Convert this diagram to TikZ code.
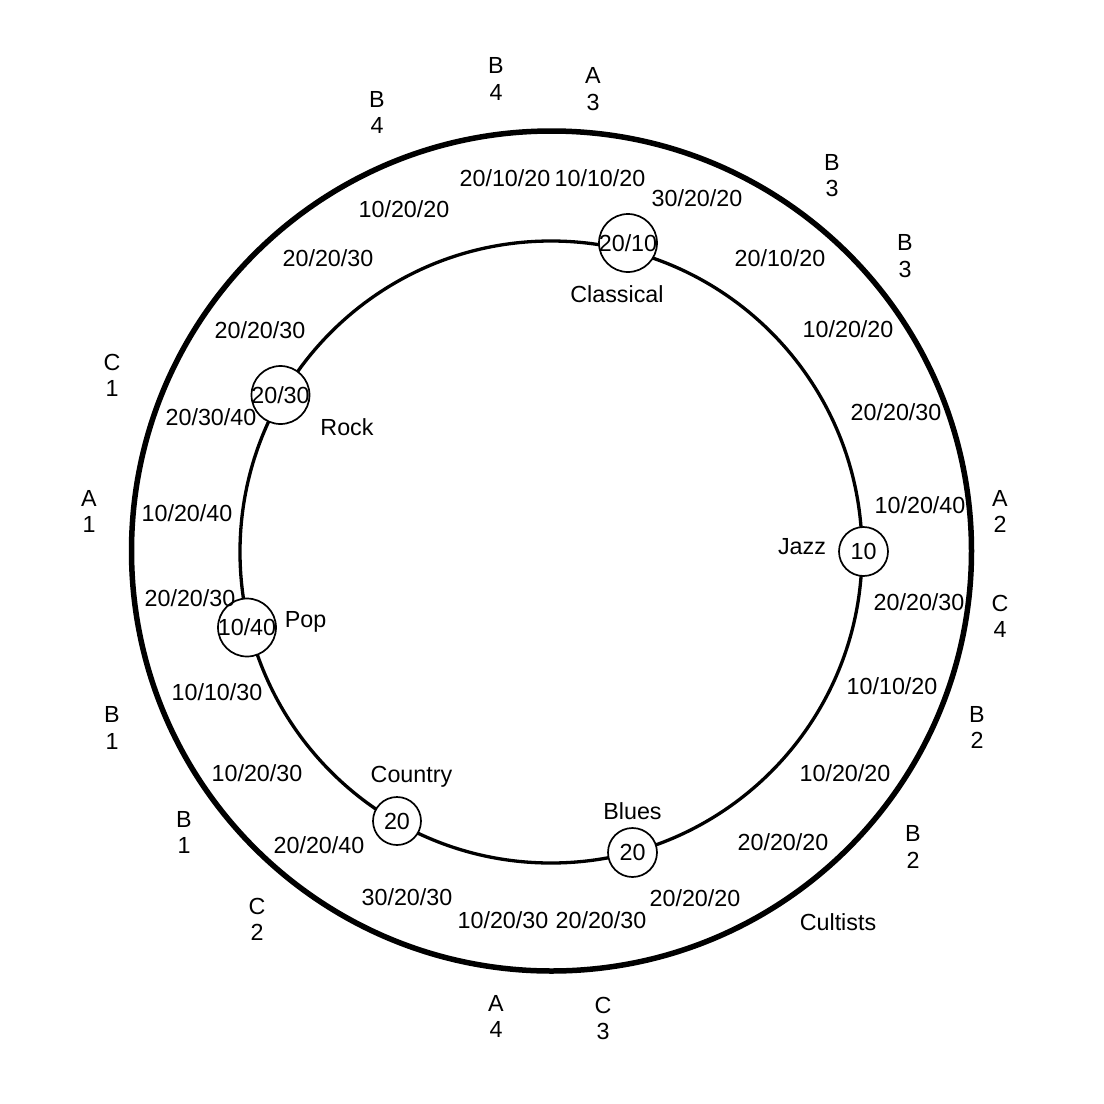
\documentclass[tikz,border=0pt]{standalone}
\usepackage{fontspec}
\setmainfont{Liberation Sans}
\begin{document}
\begin{tikzpicture}[x=1pt,y=-1pt,
  lbl/.style={font=\fontsize{23.3}{26.7}\selectfont, inner sep=0pt, align=center},
  ring/.style={circle, draw, inner sep=0pt},
  genre/.style={circle, draw, fill=white, line width=1.7pt, inner sep=0pt, minimum size=#1, font=\fontsize{23.3}{26.7}\selectfont},
]
\useasboundingbox (0,0) rectangle (1104,1104);
% rings
\node[ring, line width=5.5pt, minimum size=840pt] (outer) at (551.5,551) {};
\node[ring, line width=3.3pt, minimum size=622pt] (inner) at (551,552) {};
% genre nodes
\node[genre=58pt] (cl) at (628,243) {\makebox[0pt]{20/10}};
\node[genre=58pt] (rock) at (280.5,395) {\makebox[0pt]{20/30}};
\node[genre=58pt] (pop) at (247,627.5) {\makebox[0pt]{10/40}};
\node[genre=49pt] (jazz) at (863.5,551.5) {\makebox[0pt]{10}};
\node[genre=48pt] (country) at (397,821) {\makebox[0pt]{20}};
\node[genre=49pt] (blues) at (632.5,852.5) {\makebox[0pt]{20}};
% genre names
\node[lbl, anchor=base] (tcl) at (617,302) {Classical};
\node[lbl, anchor=base] (trock) at (347,435) {Rock};
\node[lbl, anchor=base] (tpop) at (305.5,627) {Pop};
\node[lbl, anchor=base] (tjazz) at (802,554) {Jazz};
\node[lbl, anchor=base] (tcountry) at (411.5,782.5) {Country};
\node[lbl, anchor=base] (tblues) at (632.5,819) {Blues};
\node[lbl, anchor=base] (tcult) at (838,930.5) {Cultists};
% ring labels
\node[lbl] (r1) at (505,178) {20/10/20};
\node[lbl] (r2) at (600,178) {10/10/20};
\node[lbl] (r3) at (697,198) {30/20/20};
\node[lbl] (r4) at (404,209) {10/20/20};
\node[lbl] (r5) at (328,258) {20/20/30};
\node[lbl] (r6) at (780,258) {20/10/20};
\node[lbl] (r7) at (260,330) {20/20/30};
\node[lbl] (r8) at (848,329) {10/20/20};
\node[lbl] (r9) at (211,417) {20/30/40};
\node[lbl] (r10) at (896,412) {20/20/30};
\node[lbl] (r11) at (187,513) {10/20/40};
\node[lbl] (r12) at (920,505) {10/20/40};
\node[lbl] (r13) at (190,598) {20/20/30};
\node[lbl] (r14) at (919,602) {20/20/30};
\node[lbl] (r15) at (217,692) {10/10/30};
\node[lbl] (r16) at (892,686) {10/10/20};
\node[lbl] (r17) at (257,773) {10/20/30};
\node[lbl] (r18) at (845,773) {10/20/20};
\node[lbl] (r19) at (319,845) {20/20/40};
\node[lbl] (r20) at (783,842) {20/20/20};
\node[lbl] (r21) at (407,897) {30/20/30};
\node[lbl] (r22) at (695,898) {20/20/20};
\node[lbl] (r23) at (503,920) {10/20/30};
\node[lbl] (r24) at (601,920) {20/20/30};
% outer labels
\node[lbl] (o1) at (377,112.5) {B\\4};
\node[lbl] (o2) at (496,79) {B\\4};
\node[lbl] (o3) at (593,89) {A\\3};
\node[lbl] (o4) at (832,175.5) {B\\3};
\node[lbl] (o5) at (905,256) {B\\3};
\node[lbl] (o6) at (1000,511.5) {A\\2};
\node[lbl] (o7) at (1000,616.5) {C\\4};
\node[lbl] (o8) at (977,727.5) {B\\2};
\node[lbl] (o9) at (913,847) {B\\2};
\node[lbl] (o10) at (603,1018.5) {C\\3};
\node[lbl] (o11) at (496,1016.5) {A\\4};
\node[lbl] (o12) at (257,919.5) {C\\2};
\node[lbl] (o13) at (184,832.5) {B\\1};
\node[lbl] (o14) at (112,728) {B\\1};
\node[lbl] (o15) at (89,511.5) {A\\1};
\node[lbl] (o16) at (112,375.5) {C\\1};
\end{tikzpicture}
\end{document}
